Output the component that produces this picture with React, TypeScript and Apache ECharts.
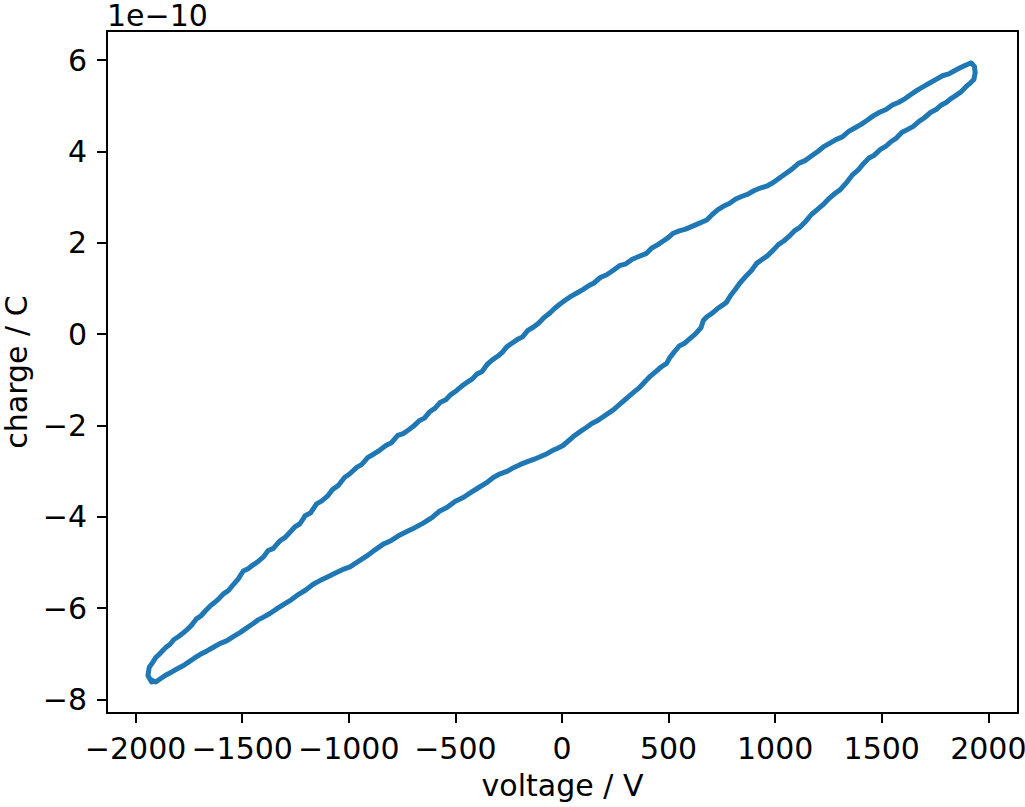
import React, { useEffect, useRef } from "react";
import * as echarts from "echarts";

// charge values in units of 1e-10 C, voltage in V
const upperBranch: [number, number][] = [
  [-1925, -7.62], [-1942, -7.48], [-1936, -7.3], [-1918, -7.18], [-1905, -7.08], [-1890, -7.02],
  [-1872, -6.93], [-1855, -6.85], [-1839, -6.8], [-1820, -6.69], [-1800, -6.63], [-1780, -6.56],
  [-1760, -6.48], [-1738, -6.38], [-1715, -6.24], [-1695, -6.18], [-1672, -6.06], [-1651, -5.96],
  [-1630, -5.88], [-1610, -5.8], [-1588, -5.69], [-1565, -5.62], [-1540, -5.48], [-1518, -5.36],
  [-1495, -5.19], [-1472, -5.14], [-1450, -5.06], [-1425, -4.98], [-1400, -4.88], [-1378, -4.74],
  [-1355, -4.7], [-1323, -4.53], [-1300, -4.46], [-1278, -4.35], [-1252, -4.22], [-1230, -4.16],
  [-1205, -3.98], [-1180, -3.92], [-1151, -3.72], [-1128, -3.66], [-1100, -3.55], [-1075, -3.4],
  [-1050, -3.32], [-1020, -3.14], [-995, -3.06], [-963, -2.92], [-940, -2.86], [-910, -2.7],
  [-880, -2.62], [-854, -2.54], [-826, -2.44], [-800, -2.38], [-770, -2.22], [-745, -2.18],
  [-720, -2.1], [-697, -2.02], [-670, -1.9], [-645, -1.84], [-620, -1.7], [-595, -1.62],
  [-572, -1.5], [-545, -1.44], [-520, -1.32], [-495, -1.24], [-470, -1.14], [-440, -1.04],
  [-420, -0.98], [-400, -0.88], [-375, -0.82], [-350, -0.66], [-325, -0.56], [-300, -0.48],
  [-280, -0.4], [-259, -0.28], [-235, -0.2], [-210, -0.12], [-185, -0.06], [-160, 0.08],
  [-135, 0.15], [-110, 0.24], [-85, 0.36], [-60, 0.45], [-35, 0.56], [-9, 0.66],
  [15, 0.74], [40, 0.82], [70, 0.9], [100, 0.98], [125, 1.06], [150, 1.12],
  [180, 1.24], [210, 1.3], [241, 1.4], [270, 1.5], [300, 1.54], [330, 1.64],
  [360, 1.7], [397, 1.77], [420, 1.88], [450, 1.96], [475, 2.04], [500, 2.12],
  [522, 2.21], [550, 2.26], [580, 2.3], [610, 2.36], [640, 2.42], [679, 2.5],
  [705, 2.62], [730, 2.72], [757, 2.8], [785, 2.86], [815, 2.96], [845, 3.02],
  [870, 3.06], [900, 3.14], [930, 3.2], [960, 3.24], [991, 3.32], [1020, 3.42],
  [1050, 3.52], [1080, 3.62], [1110, 3.74], [1140, 3.8], [1170, 3.9], [1200, 4.0],
  [1226, 4.1], [1255, 4.18], [1285, 4.26], [1315, 4.32], [1345, 4.44], [1375, 4.52],
  [1405, 4.6], [1430, 4.68], [1460, 4.78], [1490, 4.86], [1520, 4.92], [1550, 5.02],
  [1580, 5.08], [1610, 5.16], [1640, 5.26], [1665, 5.34], [1695, 5.42], [1725, 5.5],
  [1755, 5.58], [1785, 5.66], [1815, 5.7], [1845, 5.78], [1870, 5.84], [1898, 5.9],
  [1920, 5.94], [1935, 5.86],
];

const lowerBranch: [number, number][] = [
  [1938, 5.72], [1932, 5.58], [1915, 5.5], [1895, 5.42], [1870, 5.3], [1845, 5.22],
  [1825, 5.16], [1804, 5.08], [1780, 5.02], [1755, 4.92], [1730, 4.86], [1700, 4.74],
  [1675, 4.66], [1648, 4.55], [1620, 4.48], [1595, 4.42], [1570, 4.3], [1545, 4.22],
  [1520, 4.12], [1492, 4.04], [1465, 3.92], [1440, 3.86], [1415, 3.74], [1390, 3.6],
  [1365, 3.5], [1335, 3.32], [1304, 3.16], [1280, 3.08], [1255, 2.98], [1230, 2.86],
  [1200, 2.74], [1170, 2.62], [1145, 2.48], [1116, 2.34], [1090, 2.26], [1065, 2.14],
  [1040, 2.04], [1015, 1.96], [991, 1.84], [965, 1.72], [940, 1.64], [913, 1.55],
  [890, 1.4], [865, 1.28], [835, 1.12], [810, 0.96], [790, 0.84], [772, 0.7],
  [755, 0.64], [730, 0.56], [705, 0.46], [680, 0.38], [663, 0.3], [652, 0.14],
  [625, 0.0], [600, -0.1], [575, -0.2], [550, -0.26], [525, -0.4], [505, -0.52],
  [491, -0.64], [465, -0.72], [440, -0.82], [415, -0.92], [390, -1.04], [366, -1.16],
  [340, -1.26], [315, -1.36], [290, -1.46], [265, -1.56], [241, -1.66], [215, -1.74],
  [190, -1.82], [165, -1.9], [140, -1.96], [116, -2.04], [90, -2.12], [60, -2.22],
  [35, -2.32], [5, -2.44], [-20, -2.5], [-41, -2.54], [-70, -2.62], [-100, -2.68],
  [-130, -2.74], [-165, -2.8], [-197, -2.86], [-225, -2.92], [-255, -3.0], [-290, -3.06],
  [-322, -3.14], [-355, -3.26], [-390, -3.36], [-425, -3.46], [-463, -3.58], [-500, -3.66],
  [-540, -3.8], [-575, -3.88], [-610, -4.02], [-651, -4.14], [-690, -4.24], [-725, -4.32],
  [-760, -4.4], [-800, -4.52], [-838, -4.6], [-875, -4.72], [-915, -4.86], [-955, -4.98],
  [-994, -5.1], [-1030, -5.16], [-1065, -5.24], [-1100, -5.32], [-1135, -5.4], [-1167, -5.48],
  [-1200, -5.6], [-1235, -5.7], [-1270, -5.82], [-1305, -5.92], [-1338, -6.02], [-1370, -6.12],
  [-1400, -6.2], [-1425, -6.26], [-1448, -6.34], [-1480, -6.44], [-1510, -6.54], [-1540, -6.62],
  [-1573, -6.72], [-1605, -6.78], [-1635, -6.86], [-1665, -6.94], [-1698, -7.02], [-1725, -7.1],
  [-1750, -7.18], [-1775, -7.26], [-1800, -7.32], [-1830, -7.4], [-1855, -7.46], [-1880, -7.54],
  [-1905, -7.62], [-1925, -7.58],
];

const xTicks = [-2000, -1500, -1000, -500, 0, 500, 1000, 1500, 2000];
const yTicks = [-8, -6, -4, -2, 0, 2, 4, 6];
const xRange = [-2134, 2139];
const yRange = [-8.3, 6.64];
const xName = "voltage / V";
const yName = "charge / C";
const yOffsetText = "1e\u221210";

const FONT = "DejaVu Sans";
const fmt = (v: number) => String(v).replace("-", "\u2212");

export default function App() {
  const ref = useRef<HTMLDivElement>(null);
  useEffect(() => {
    if (!ref.current) return;
    const chart = echarts.init(ref.current, null, { renderer: "svg" });
    const data = [...upperBranch, ...lowerBranch];
    chart.setOption({
      animation: false,
      backgroundColor: "#ffffff",
      grid: {
        left: 107,
        right: 7,
        top: 31,
        bottom: 94,
        show: true,
        borderColor: "#000",
        borderWidth: 2,
        backgroundColor: "transparent",
        containLabel: false,
        outerBoundsMode: "none",
      },
      xAxis: {
        type: "value",
        min: xRange[0],
        max: xRange[1],
        name: xName,
        nameLocation: "middle",
        nameGap: 57,
        nameTextStyle: { fontFamily: FONT, fontSize: 30, color: "#000" },
        axisLine: { show: true, onZero: false, lineStyle: { color: "#000", width: 2 } },
        axisTick: { show: true, length: 10, lineStyle: { color: "#000", width: 2 }, customValues: xTicks },
        axisLabel: {
          customValues: xTicks,
          formatter: fmt,
          margin: 20,
          fontFamily: FONT,
          fontSize: 30,
          color: "#000",
        },
        splitLine: { show: false },
      },
      yAxis: {
        type: "value",
        min: yRange[0],
        max: yRange[1],
        name: yName,
        nameLocation: "middle",
        nameGap: 75,
        nameRotate: 90,
        nameTextStyle: { fontFamily: FONT, fontSize: 30, color: "#000" },
        axisLine: { show: true, onZero: false, lineStyle: { color: "#000", width: 2 } },
        axisTick: { show: true, length: 10, lineStyle: { color: "#000", width: 2 }, customValues: yTicks },
        axisLabel: {
          customValues: yTicks,
          formatter: fmt,
          margin: 20,
          fontFamily: FONT,
          fontSize: 30,
          color: "#000",
        },
        splitLine: { show: false },
      },
      graphic: [
        {
          type: "text",
          left: 107,
          top: 0,
          style: { text: yOffsetText, font: `30px "${FONT}"`, fill: "#000" },
        },
      ],
      series: [
        {
          type: "line",
          data,
          showSymbol: false,
          symbol: "none",
          lineStyle: { color: "#1f77b4", width: 5, join: "round", cap: "round" },
          itemStyle: { color: "#1f77b4" },
        },
      ],
    });
    return () => chart.dispose();
  }, []);
  return (
    <div
      ref={ref}
      style={{ position: "fixed", left: 0, top: 0, width: 1025, height: 807, background: "#fff" }}
    />
  );
}
